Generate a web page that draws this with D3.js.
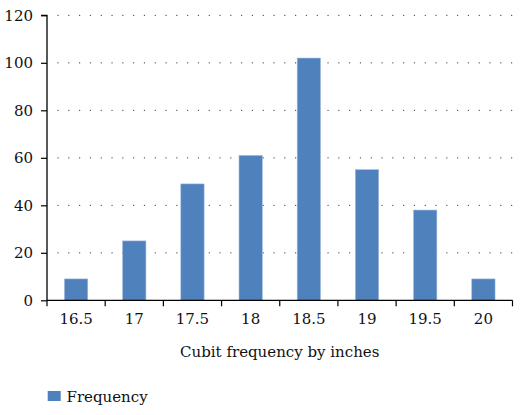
<!DOCTYPE html>
<html><head><meta charset="utf-8">
<script src="https://cdn.jsdelivr.net/npm/d3@7"></script>
<style>body{margin:0;background:#fff}</style>
</head><body>
<svg id="c" width="520" height="415"></svg>
<script>
const categories = ["16.5","17","17.5","18","18.5","19","19.5","20"];
const frequency = [9,25,49,61,102,55,38,9];
const yTicks = [0,20,40,60,80,100,120];
const xTitle = "Cubit frequency by inches";
const seriesName = "Frequency";

const FONT = "'DejaVu Serif', 'Liberation Serif', serif";
const svg = d3.select("#c").attr("font-family", FONT);
const mLeft = 47, mRight = 512.5, mTop = 15.3, mBottom = 300.3;
const x = d3.scaleBand().domain(categories).range([mLeft, mRight]).paddingInner(0.6).paddingOuter(0.3);
const xb = d3.scaleBand().domain(categories).range([mLeft, mRight]);
const y = d3.scaleLinear().domain([0,120]).range([mBottom, mTop]);
const color = "#4f81bd";

// grid
svg.append("g").selectAll("line").data(yTicks.filter(d=>d>0)).join("line")
  .attr("x1", mLeft+11).attr("x2", mRight).attr("y1", d=>y(d)).attr("y2", d=>y(d))
  .attr("stroke", "#444").attr("stroke-width", 1.3).attr("stroke-linecap","round")
  .attr("stroke-dasharray", "0.1,10.7");

// bars
svg.append("g").selectAll("rect").data(frequency).join("rect")
  .attr("x", (d,i)=>x(categories[i])).attr("width", x.bandwidth())
  .attr("y", d=>y(d)).attr("height", d=>mBottom - y(d))
  .attr("fill", color).attr("stroke", "#9db8dc").attr("stroke-width", 0.6);

// y axis
const ya = svg.append("g").attr("transform", `translate(${mLeft},0)`)
  .call(d3.axisLeft(y).tickValues(yTicks).tickSize(6).tickPadding(8));
ya.attr("font-family", FONT);
ya.select(".domain").attr("stroke","#000").attr("stroke-width",1.3).attr("d", `M-6,${mTop}H0V${mBottom}`);
ya.selectAll(".tick line").attr("stroke","#000").attr("stroke-width",1.2);
ya.selectAll(".tick text").attr("font-family", FONT).attr("font-size", 15).attr("fill","#111").attr("dy","0.34em");

// x axis
const xa = svg.append("g").attr("transform", `translate(0,${mBottom})`)
  .call(d3.axisBottom(xb).tickSize(0).tickPadding(13));
xa.attr("font-family", FONT);
xa.select(".domain").attr("stroke","#000").attr("stroke-width",1.3).attr("d", `M${mLeft},0H${mRight}`);
xa.selectAll(".tick text").attr("font-family", FONT).attr("font-size", 15).attr("fill","#111");
// boundary ticks
const bounds = categories.map(c=>xb(c)).concat([mRight]);
svg.append("g").selectAll("line").data(bounds).join("line")
  .attr("x1", d=>d).attr("x2", d=>d).attr("y1", mBottom).attr("y2", mBottom+6)
  .attr("stroke","#000").attr("stroke-width",1.2);

svg.append("text").attr("x", (mLeft+mRight)/2).attr("y", 357).attr("text-anchor","middle")
  .attr("font-family", FONT).attr("font-size", 15).attr("fill","#111").text(xTitle);

// legend
svg.append("rect").attr("x", 47.7).attr("y", 391).attr("width", 13).attr("height", 10).attr("fill", color);
svg.append("text").attr("x", 66.5).attr("y", 401.5).attr("font-family", FONT).attr("font-size", 15).attr("fill","#111").text(seriesName);
</script>
</body></html>
